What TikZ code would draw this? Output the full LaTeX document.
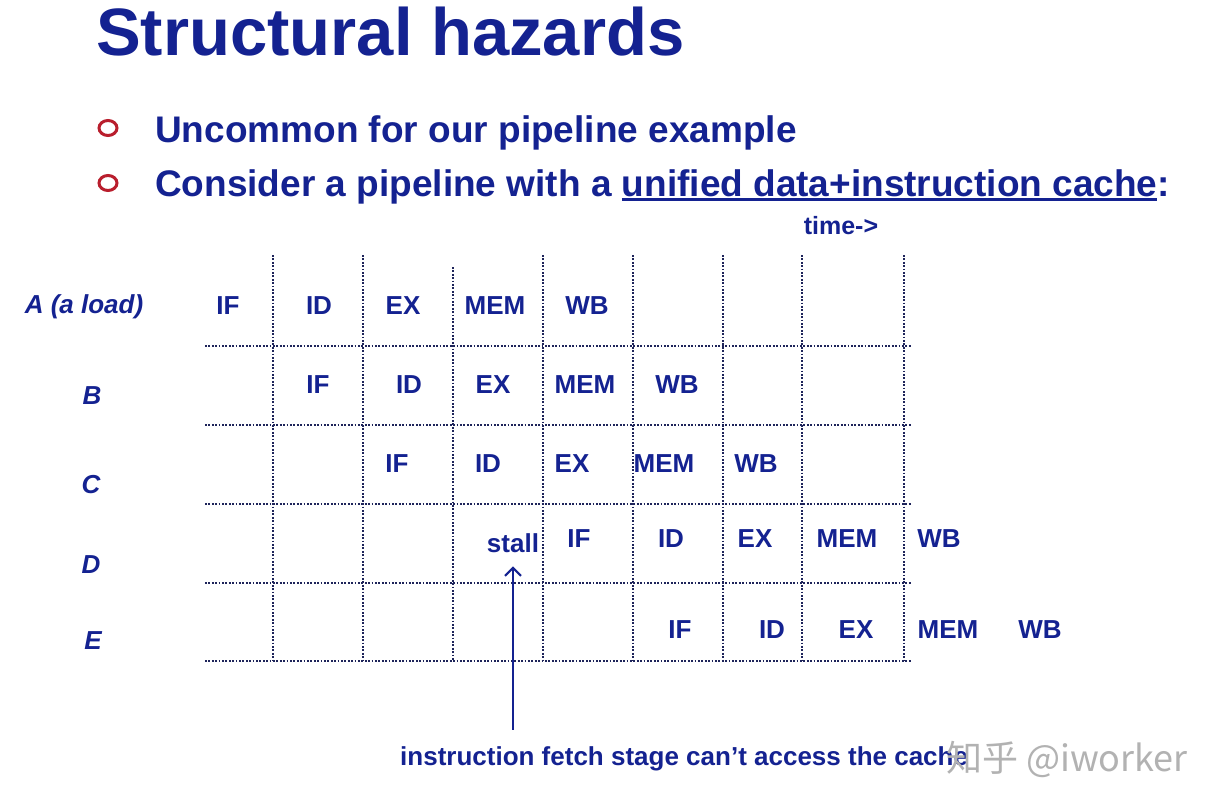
\documentclass[tikz,border=0pt]{standalone}
\usepackage{fontspec}
\setmainfont{Liberation Sans}
\newfontfamily\cjk{Noto Sans CJK SC}
\usepackage{tikz}
\usetikzlibrary{arrows.meta,shapes.geometric}
\usetikzlibrary{positioning}
\definecolor{slideblue}{RGB}{20,34,145}
\definecolor{griddot}{RGB}{30,36,90}
\definecolor{bulletred}{RGB}{185,30,45}
\newcommand{\thickul}[1]{\vtop{\hbox{#1}\kern2pt\hrule height 2.4pt}}

\begin{document}
\begin{tikzpicture}[x=1pt,y=-1pt]
		\tikzstyle{stage} = [text=slideblue, font=\fontsize{26}{30}\selectfont\bfseries, inner sep=0pt, anchor=base]
		\tikzstyle{rowlbl} = [stage, font=\fontsize{26}{30}\selectfont\bfseries\itshape]
		\tikzstyle{bigtext} = [text=slideblue, inner sep=0pt, anchor=base west]
		\tikzstyle{gridline} = [griddot, line width=2.3pt, dash pattern=on 1.7pt off 1.7pt]
		\tikzstyle{bul} = [ellipse, draw=bulletred, line width=3pt, minimum width=18pt, minimum height=15pt, inner sep=0pt]
		\tikzstyle{arrow} = [slideblue, line width=2pt, -{Straight Barb[length=8pt,width=16pt]}]
		\useasboundingbox (0,0) rectangle (1223,804);
		\fill[white] (0,0) rectangle (1223,804);
		% heading and bullets
		\node (title) [bigtext, font=\fontsize{67}{70}\selectfont\bfseries] at (96,55) {Structural hazards};
		\node (bul1) [bul] at (108,128) {};
		\node (bul2) [bul] at (108,183) {};
		\node (line1) [bigtext, font=\fontsize{37}{40}\selectfont\bfseries] at (155,142) {Uncommon for our pipeline example};
		\node (line2) [bigtext, font=\fontsize{37}{40}\selectfont\bfseries] at (155,196) {Consider a pipeline with a \thickul{unified data+instruction cache}:};
		\node (time) [stage, font=\fontsize{25}{30}\selectfont\bfseries] at (841,234) {time->};
		% grid
		\foreach \y in {346,425,504,583,661}
			\draw[gridline] (205,\y) -- (912,\y);
		\foreach \x in {273,363,543,633,723,802,904}
			\draw[gridline] (\x,255) -- (\x,661);
		\draw[gridline] (453,267) -- (453,661);
		% row labels
		\node (rowA) [rowlbl] at (84,313) {A (a load)};
		\node (rowB) [rowlbl] at (92,404) {B};
		\node (rowC) [rowlbl] at (91,493) {C};
		\node (rowD) [rowlbl] at (91,573) {D};
		\node (rowE) [rowlbl] at (93,649) {E};
		% A
		\node (aIF) [stage] at (228,314) {IF};
		\node (aID) [stage] at (319,314) {ID};
		\node (aEX) [stage] at (403,314) {EX};
		\node (aMEM) [stage] at (495,314) {MEM};
		\node (aWB) [stage] at (587,314) {WB};
		% B
		\node (bIF) [stage] at (318,393) {IF};
		\node (bID) [stage] at (409,393) {ID};
		\node (bEX) [stage] at (493,393) {EX};
		\node (bMEM) [stage] at (585,393) {MEM};
		\node (bWB) [stage] at (677,393) {WB};
		% C
		\node (cIF) [stage] at (397,472) {IF};
		\node (cID) [stage] at (488,472) {ID};
		\node (cEX) [stage] at (572,472) {EX};
		\node (cMEM) [stage] at (664,472) {MEM};
		\node (cWB) [stage] at (756,472) {WB};
		% D
		\node (stall) [stage] at (513,552) {stall};
		\node (dIF) [stage] at (579,547) {IF};
		\node (dID) [stage] at (671,547) {ID};
		\node (dEX) [stage] at (755,547) {EX};
		\node (dMEM) [stage] at (847,547) {MEM};
		\node (dWB) [stage] at (939,547) {WB};
		% E
		\node (eIF) [stage] at (680,638) {IF};
		\node (eID) [stage] at (772,638) {ID};
		\node (eEX) [stage] at (856,638) {EX};
		\node (eMEM) [stage] at (948,638) {MEM};
		\node (eWB) [stage] at (1040,638) {WB};
		% note and arrow
		\node (note) [bigtext, font=\fontsize{26}{30}\selectfont\bfseries] at (400,765) {instruction fetch stage can’t access the cache};
		\draw[arrow, shorten <=16pt, shorten >=14pt] (note.north -| stall.south) -- (stall.south);
		\node (mark) [anchor=base west, inner sep=0pt, text=black!30, font=\cjk\fontsize{36}{40}\selectfont] at (946,771) {知乎 @iworker};
	\end{tikzpicture}
\end{document}
